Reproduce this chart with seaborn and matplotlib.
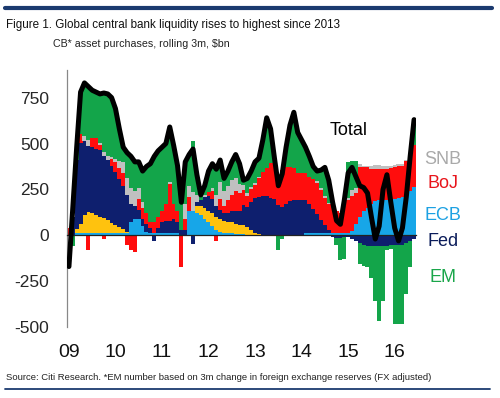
"""Citi chart: global central bank asset purchases, stacked monthly bars + total line."""

import matplotlib
matplotlib.use("Agg")
import matplotlib.pyplot as plt
import matplotlib.transforms as mtransforms
from matplotlib.lines import Line2D
import numpy as np
import pandas as pd
import seaborn as sns

# monthly, Jan 2009 .. Jun 2016 (rolling 3m, $bn)
ecb = ([0, 0] + [12] * 14 + [70, 90, 90, 50, 20] + [12, 12, 12] + [10] * 5 + [0, 0]
       + [130, 135, 120, 110, 90, 70, 50, 30, 20, 15, 10, 10, 5, 5, 5]
       + [0] * 15 + [10] * 9 + [10, 12]
       + [15, 25, 60, 100, 130, 150, 170, 185, 190, 190, 190, 195, 200, 205, 210, 220, 240, 262])
boe = ([0, 0] + [20, 50, 100, 115, 110, 100, 90, 80, 70, 55, 45, 35, 25, 8] + [0] * 17
       + [40, 50, 60, 65, 70, 70, 70, 65, 60, 60, 55, 50, 50, 45, 30, 15, 5] + [0] * 40)
fed = [0, 100, 380, 440, 400, 360, 360, 360, 360, 340,
       330, 310, 290, 260, 230, 200, 100, 70, 50, 40,
       40, 30, -30, 30, 60, 70, 70, 80, 60, 30,
       30, 0, -45, 20, 30, 60, 80, 80, 60, 50,
       40, 50, 60, 70, 75, 110, 110, 150, 190, 205,
       215, 215, 205, 200, 165, 155, 170, 185, 190, 190,
       190, 180, 160, 135, 105, 75, 45, 20, -10, -15,
       -15, -10, -10, -20, -30, -40, -50, -60, -60, -60,
       -60, -60, -60, -55, -50, -50, -50, -40, -30, -20]
boj = [40, 0, 0, 50, 0, -80, 50, 60, 30, -20,
       0, 40, 50, 60, 70, -50, -80, -90, 60, 60,
       60, 30, 60, 60, 60, 90, 200, 80, 60, -170,
       60, 80, 0, 0, 0, 0, 20, 40, -30, 60,
       40, 70, 90, 110, 100, 80, 60, 70, 70, 100,
       130, 150, 190, 200, 130, 200, 200, 185, 175, 150,
       150, 150, 150, 160, 170, 160, 150, 140, 140, 120,
       110, 150, 180, 190, 170, 270, 240, 220, 190, 175,
       170, 170, 170, 170, 170, 170, 170, 185, 200, 230]
snb = [0, 0, 0, 0, 30, 30, 0, 0, 10, 20,
       20, 10, 20, 40, 60, 90, 90, 80, 60, 30,
       0, 0, 0, 0, 0, 0, 10, 0, 0, 0,
       80, 60, 100, 40, 0, 10, 0, 20, 60, 90,
       80, 80, 80, 70, 50, 30, 15, 15, 10, 5,
       0, 0, 0, 0, 0, 0, 0, 0, 0, 0,
       0, 0, 0, 0, 10, 15, 10, 5, 0, 0,
       0, 0, 10, 30, 30, 20, 10, 10, 20, 25,
       25, 15, 15, 15, 15, 15, 10, 5, 5, 0]
em = [0, -60, 68, 228, 288, 298, 258, 248, 268, 323,
      338, 323, 273, 173, 83, 140, 170, 160, 140, 170,
      255, 318, 358, 358, 350, 330, 300, 320, 250, 220,
      230, 170, 280, 110, 30, 50, 115, 130, 140, 120,
      70, 80, 100, 130, 110, 25, 80, 85, 115, 105,
      175, 275, 185, 20, -80, -20, 110, 230, 305, 220,
      180, 140, 110, 70, 55, 95, 155, 125, 30, -35,
      -120, -120, 195, 160, 145, -115, -115, -115, -170, -300,
      -407, -300, -20, -20, -434, -434, -434, -280, -145, 140]
total = [-170, 150, 480, 780, 830, 810, 790, 780, 770, 775,
         770, 750, 690, 580, 480, 450, 430, 400, 400, 350,
         375, 390, 430, 460, 480, 500, 590, 490, 380, 180,
         400, 440, 470, 330, 220, 270, 350, 390, 360, 410,
         310, 350, 400, 440, 390, 300, 310, 350, 400, 420,
         520, 640, 580, 420, 270, 335, 480, 600, 670, 560,
         520, 480, 430, 375, 350, 355, 370, 300, 180, 80,
         60, 190, 340, 370, 320, 270, 260, 230, 100, -20,
         50, 250, 330, 180, 40, -30, 40, 210, 430, 630]
year_labels = ["09", "10", "11", "12", "13", "14", "15", "16"]

colors = {"ECB": "#17a6e8", "BoE": "#ffc20e", "Fed": "#0e1f6e",
          "BoJ": "#ff0d0d", "SNB": "#c0c0c0", "EM": "#13a54a"}
label_colors = {"SNB": "#a9a9a9", "BoJ": "#e8141b", "ECB": "#1da1e2",
                "Fed": "#0b1c5a", "EM": "#1aa64a"}

df = pd.DataFrame({"ECB": ecb, "BoE": boe, "Fed": fed, "BoJ": boj,
                   "SNB": snb, "EM": em, "Total": total})
x = np.arange(len(df))

sns.set_style("white")
plt.rcParams["font.family"] = ["Liberation Sans", "DejaVu Sans"]

fig = plt.figure(figsize=(5, 3.98), dpi=100)
ax = fig.add_axes([0.134, 0.178, 0.698, 0.646])

# stacked bars: positives upward, negatives downward
# (bars overlap a hair so pixel snapping leaves no white seams)
BAR_W = 1.06
pos_base = np.zeros(len(df))
for name in ["ECB", "BoE", "Fed", "BoJ", "SNB", "EM"]:
    vals = df[name].clip(lower=0).to_numpy(float)
    ax.bar(x, vals, bottom=pos_base, width=BAR_W, color=colors[name], linewidth=0)
    pos_base += vals
neg_base = np.zeros(len(df))
for name in ["Fed", "BoJ", "ECB", "BoE", "SNB", "EM"]:
    vals = df[name].clip(upper=0).to_numpy(float)
    ax.bar(x, vals, bottom=neg_base, width=BAR_W, color=colors[name], linewidth=0)
    neg_base += vals

sns.lineplot(x=x, y=df["Total"], ax=ax, color="black", lw=3.6, zorder=5)
for line in ax.lines:
    line.set_solid_joinstyle("round")
    line.set_solid_capstyle("round")

ax.set_xlim(-0.5, len(df) - 0.5)
ax.set_ylim(-500, 900)
ax.set_yticks([-500, -250, 0, 250, 500, 750])
ax.set_yticklabels(["-500", "-250", "0", "250", "500", "750"], fontsize=12.5)
ax.tick_params(axis="y", direction="out", length=5, width=0.8, color="#888888", pad=8)
ax.set_ylabel("")
ax.set_xlabel("")

year_pos = [12 * k - 0.5 for k in range(len(year_labels))]
ax.set_xticks(year_pos)
ax.tick_params(axis="x", direction="out", length=4, width=0.8, color="#333333",
               labelbottom=False)
ax.spines["bottom"].set_position(("data", 0))
ax.spines["bottom"].set_color("#222222")
ax.spines["bottom"].set_linewidth(0.9)
ax.spines["bottom"].set_zorder(4)
ax.spines["left"].set_color("#888888")
ax.spines["left"].set_linewidth(0.9)
ax.spines["left"].set_zorder(4)
ax.spines["top"].set_visible(False)
ax.spines["right"].set_visible(False)

trans = mtransforms.blended_transform_factory(ax.transData, ax.transAxes)
for pos, lab in zip(year_pos, year_labels):
    ax.text(pos + 0.5, -0.097, lab, transform=trans, ha="center", va="center",
            fontsize=14, color="#111111")

# series labels
fig.text(349 / 500, 1 - 131 / 398, "Total", fontsize=13, color="black",
         ha="center", va="center")
for name, py in [("SNB", 159), ("BoJ", 183), ("ECB", 216), ("Fed", 241), ("EM", 278)]:
    fig.text(443 / 500, 1 - py / 398, name, fontsize=13, color=label_colors[name],
             ha="center", va="center")

# header / footer
fig.add_artist(Line2D([0.01, 0.984], [1 - 7.5 / 398] * 2, color="#1b3a6f", lw=3))
fig.text(6 / 500, 1 - 25 / 398, "Figure 1. Global central bank liquidity rises to highest since 2013",
         fontsize=8.4, color="#111111", va="center")
fig.text(53 / 500, 1 - 44 / 398, "CB* asset purchases, rolling 3m, $bn",
         fontsize=7.7, color="#222222", va="center")
fig.text(6 / 500, 1 - 377 / 398,
         "Source: Citi Research. *EM number based on 3m change in foreign exchange reserves (FX adjusted)",
         fontsize=6.8, color="#222222", va="center")
fig.add_artist(Line2D([0.01, 0.98], [1 - 389 / 398] * 2, color="#1b3a6f", lw=1.3))

fig.savefig("out.png", dpi=100)
plt.close(fig)
